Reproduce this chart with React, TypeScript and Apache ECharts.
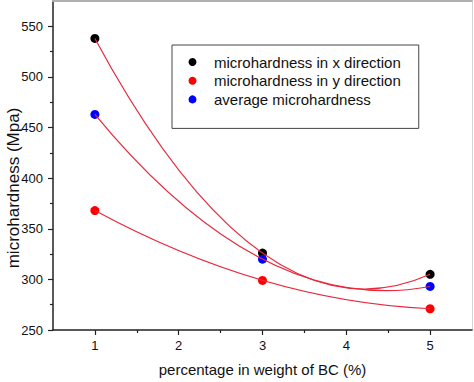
import React, { useEffect, useRef } from "react";
import * as echarts from "echarts";

// Percentage in weight of BC (%)
const bcPercent = [1, 3, 5];
// Microhardness measurements (Mpa)
const hardnessX = [538, 326, 305];
const hardnessY = [368, 299, 271];
const hardnessAvg = [463, 320, 293];

const xMajorTicks = [1, 2, 3, 4, 5];
const xMinorTicks = [1.5, 2.5, 3.5, 4.5];
const yMajorTicks = [250, 300, 350, 400, 450, 500, 550];
const yMinorTicks = [275, 325, 375, 425, 475, 525];

const seriesNames = [
  "microhardness in x direction",
  "microhardness in y direction",
  "average microhardness",
];

const FONT = "Liberation Sans, Arial, sans-serif";
const AXIS_COLOR = "#222";
const FIT_COLOR = "#e8283c";

const X_MIN = 0.5;
const X_MAX = 5.5;
const Y_MIN = 250;
const Y_MAX = 575;

// Second-order fit through three equally spaced points, drawn as a quadratic Bézier
function fitCurve(values: number[]) {
  return {
    type: "custom",
    silent: true,
    z: 4,
    data: bcPercent.map((x, i) => [x, values[i]]),
    renderItem: (params: any, api: any) => {
      if (params.dataIndex !== 0) return null;
      const p0 = api.coord([bcPercent[0], values[0]]);
      const p1 = api.coord([bcPercent[1], values[1]]);
      const p2 = api.coord([bcPercent[2], values[2]]);
      return {
        type: "bezierCurve",
        shape: {
          x1: p0[0],
          y1: p0[1],
          x2: p2[0],
          y2: p2[1],
          cpx1: 2 * p1[0] - (p0[0] + p2[0]) / 2,
          cpy1: 2 * p1[1] - (p0[1] + p2[1]) / 2,
        },
        style: { stroke: FIT_COLOR, lineWidth: 1.2, fill: "none" },
      };
    },
  };
}

function points(name: string, values: number[], color: string) {
  return {
    type: "scatter",
    name,
    symbol: "circle",
    symbolSize: 9,
    z: 3,
    itemStyle: { color, opacity: 1 },
    data: bcPercent.map((x, i) => [x, values[i]]),
  };
}

export default function App() {
  const ref = useRef<HTMLDivElement>(null);

  useEffect(() => {
    if (!ref.current) return;
    const chart = echarts.init(ref.current, null, { renderer: "svg" });
    const hidden = { show: false };
    chart.setOption({
      animation: false,
      backgroundColor: "#fff",
      textStyle: { fontFamily: FONT },
      grid: { left: 53, right: 2, top: 1, bottom: 50 },
      legend: {
        orient: "vertical",
        left: 172,
        top: 45,
        padding: [9, 18, 21, 16.5],
        borderColor: "#444",
        borderWidth: 1,
        icon: "circle",
        itemWidth: 33,
        itemHeight: 8,
        symbolKeepAspect: true,
        itemGap: 2.7,
        itemStyle: { opacity: 1 },
        textStyle: { fontSize: 15, lineHeight: 16, color: "#111", fontFamily: FONT },
        data: seriesNames,
      },
      graphic: [
        {
          type: "text",
          x: 13,
          y: 188,
          rotation: Math.PI / 2,
          style: {
            text: "microhardness (Mpa)",
            fontSize: 17,
            fontFamily: FONT,
            fill: "#111",
            align: "center",
            verticalAlign: "middle",
          },
        },
      ],
      xAxis: [
        {
          type: "value",
          min: X_MIN,
          max: X_MAX,
          position: "bottom",
          name: "percentage in weight of BC (%)",
          nameLocation: "middle",
          nameGap: 32,
          nameTextStyle: { fontSize: 15, color: "#111", fontFamily: FONT },
          axisLine: { lineStyle: { color: AXIS_COLOR, width: 1.5 } },
          axisTick: { customValues: xMajorTicks, length: 5, lineStyle: { color: AXIS_COLOR, width: 1.2 } },
          axisLabel: { customValues: xMajorTicks, margin: 9, fontSize: 13, color: "#111", fontFamily: FONT },
          splitLine: hidden,
        },
        {
          type: "value",
          min: X_MIN,
          max: X_MAX,
          position: "bottom",
          axisLine: hidden,
          axisTick: { customValues: xMinorTicks, length: 3, lineStyle: { color: AXIS_COLOR, width: 1.2 } },
          axisLabel: hidden,
          splitLine: hidden,
        },
        {
          type: "value",
          min: X_MIN,
          max: X_MAX,
          position: "top",
          axisLine: { lineStyle: { color: "#b0b0b0", width: 2 } },
          axisTick: hidden,
          axisLabel: hidden,
          splitLine: hidden,
        },
      ],
      yAxis: [
        {
          type: "value",
          min: Y_MIN,
          max: Y_MAX,
          position: "left",
          axisLine: { show: true, lineStyle: { color: AXIS_COLOR, width: 1.5 } },
          axisTick: { show: true, customValues: yMajorTicks, length: 5, lineStyle: { color: AXIS_COLOR, width: 1.2 } },
          axisLabel: { customValues: yMajorTicks, margin: 10, fontSize: 13, color: "#111", fontFamily: FONT },
          splitLine: hidden,
        },
        {
          type: "value",
          min: Y_MIN,
          max: Y_MAX,
          position: "left",
          axisLine: hidden,
          axisTick: { show: true, customValues: yMinorTicks, length: 3, lineStyle: { color: AXIS_COLOR, width: 1.2 } },
          axisLabel: hidden,
          splitLine: hidden,
        },
        {
          type: "value",
          min: Y_MIN,
          max: Y_MAX,
          position: "right",
          axisLine: { show: true, lineStyle: { color: "#d4d4d4", width: 1 } },
          axisTick: hidden,
          axisLabel: hidden,
          splitLine: hidden,
        },
      ],
      series: [
        points(seriesNames[0], hardnessX, "#000000"),
        points(seriesNames[1], hardnessY, "#ff0000"),
        points(seriesNames[2], hardnessAvg, "#0000ff"),
        fitCurve(hardnessX),
        fitCurve(hardnessY),
        fitCurve(hardnessAvg),
      ],
    });
    return () => chart.dispose();
  }, []);

  return (
    <div
      ref={ref}
      style={{ position: "fixed", left: 0, top: 0, width: 474, height: 382 }}
    />
  );
}
